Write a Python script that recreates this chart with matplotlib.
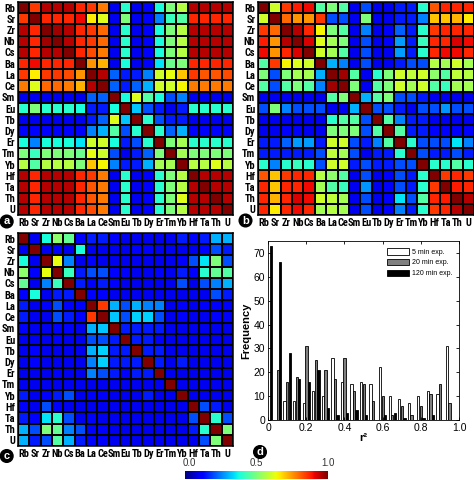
import numpy as np
import matplotlib
matplotlib.use("Agg")
import matplotlib.pyplot as plt
from matplotlib import font_manager

plt.rcParams['font.family'] = ['Liberation Sans', 'DejaVu Sans']

# narrow font for the crowded element labels, if one is installed
installed = {f.name for f in font_manager.fontManager.ttflist}
label_font = ['Liberation Sans', 'DejaVu Sans']
label_size = 6.3
for cand in ['Liberation Sans Narrow', 'Arial Narrow', 'Roboto Condensed',
             'Open Sans Condensed', 'DejaVu Sans Condensed']:
    if cand in installed:
        label_font = [cand, 'DejaVu Sans']
        label_size = 7.5
        break

elements = ["Rb", "Sr", "Zr", "Nb", "Cs", "Ba", "La", "Ce", "Sm", "Eu",
            "Tb", "Dy", "Er", "Tm", "Yb", "Hf", "Ta", "Th", "U"]

# lower triangles of the r^2 matrices, in percent (row i has i values)
low_a = [
    [],
    [85],
    [95, 87],
    [95, 87, 97],
    [95, 87, 95, 95],
    [87, 90, 87, 87, 87],
    [85, 66, 85, 85, 83, 75],
    [78, 62, 80, 80, 78, 72, 95],
    [10, 10, 10, 10, 10, 10, 22, 22],
    [40, 50, 40, 40, 40, 38, 15, 15, 38],
    [10, 10, 10, 10, 10, 10, 15, 22, 62, 32],
    [12, 12, 12, 12, 12, 12, 25, 30, 45, 20, 40],
    [38, 25, 38, 38, 38, 35, 60, 60, 38, 15, 20, 40],
    [50, 42, 50, 50, 50, 48, 63, 60, 20, 10, 15, 22, 50],
    [57, 45, 57, 57, 57, 50, 70, 65, 25, 15, 15, 30, 55, 55],
    [95, 87, 95, 95, 95, 87, 85, 78, 10, 40, 10, 12, 40, 50, 57],
    [95, 87, 95, 95, 95, 87, 82, 78, 10, 40, 10, 12, 40, 50, 57, 95],
    [95, 87, 95, 95, 95, 87, 82, 78, 10, 40, 10, 12, 40, 50, 62, 95, 95],
    [95, 87, 95, 95, 95, 87, 83, 78, 10, 40, 10, 12, 40, 50, 57, 95, 95, 95],
]

low_b = [
    [],
    [60],
    [85, 80],
    [88, 75, 95],
    [90, 75, 87, 92],
    [45, 85, 65, 62, 60],
    [50, 20, 50, 55, 55, 30],
    [45, 20, 45, 50, 45, 25, 97],
    [10, 10, 10, 10, 10, 10, 45, 50],
    [20, 50, 25, 20, 20, 20, 10, 10, 30],
    [10, 10, 10, 10, 10, 10, 40, 45, 45, 20],
    [10, 10, 12, 12, 10, 10, 50, 50, 50, 20, 45],
    [15, 15, 22, 28, 28, 15, 60, 60, 20, 15, 25, 45],
    [15, 15, 15, 15, 15, 20, 58, 55, 20, 10, 15, 15, 40],
    [40, 25, 40, 42, 40, 20, 60, 60, 15, 20, 15, 15, 20, 20],
    [82, 70, 85, 87, 87, 57, 52, 45, 10, 20, 10, 12, 20, 15, 40],
    [87, 70, 87, 87, 90, 55, 45, 42, 10, 27, 10, 12, 20, 15, 40, 85],
    [87, 72, 87, 92, 90, 60, 58, 55, 10, 20, 10, 12, 35, 20, 45, 87, 88],
    [87, 66, 87, 90, 87, 55, 57, 55, 10, 20, 10, 12, 25, 15, 40, 85, 87, 95],
]

low_c = [
    [],
    [10],
    [38, 10],
    [52, 12, 63],
    [47, 10, 25, 42],
    [12, 38, 10, 15, 15],
    [15, 10, 12, 20, 12, 12],
    [15, 10, 10, 20, 15, 12, 85],
    [12, 10, 10, 12, 12, 10, 30, 32],
    [10, 10, 10, 12, 10, 10, 20, 20, 15],
    [10, 12, 10, 10, 10, 10, 30, 33, 15, 15],
    [10, 12, 10, 10, 10, 10, 25, 33, 15, 15, 15],
    [10, 10, 10, 12, 10, 10, 25, 20, 15, 12, 15, 15],
    [10, 10, 10, 10, 10, 10, 10, 10, 10, 10, 10, 10, 10],
    [15, 10, 12, 15, 20, 10, 12, 12, 10, 10, 10, 15, 10, 10],
    [12, 10, 20, 12, 10, 10, 10, 10, 10, 10, 10, 10, 10, 10, 10],
    [15, 12, 35, 40, 20, 10, 12, 10, 10, 10, 10, 10, 10, 10, 10, 20],
    [30, 20, 50, 47, 25, 20, 12, 12, 10, 10, 10, 10, 10, 10, 10, 15, 40],
    [30, 15, 20, 45, 30, 15, 12, 12, 10, 10, 10, 10, 10, 10, 10, 10, 20, 50],
]

# histogram of r^2 (bin centres and counts)
r2_bins = [0.0, 0.05, 0.1, 0.15, 0.2, 0.25, 0.3, 0.35, 0.4, 0.45,
           0.5, 0.55, 0.6, 0.65, 0.7, 0.75, 0.8, 0.85, 0.9, 0.95]
freq_5 = [0, 0, 8, 8, 7, 12, 10, 26, 16, 15, 16, 15, 22, 10, 9, 7, 10, 12, 11, 31]
freq_20 = [0, 21, 16, 18, 31, 25, 21, 17, 26, 12, 15, 8, 10, 2, 6, 2, 6, 11, 15, 7]
freq_120 = [73, 66, 28, 17, 16, 21, 5, 2, 3, 4, 2, 0, 2, 3, 1, 0, 1, 2, 0, 0]


def full(low):
    n = len(elements)
    m = np.eye(n)
    for i, row in enumerate(low):
        for j, v in enumerate(row):
            m[i, j] = v / 100.0
            m[j, i] = v / 100.0
    return m


def matrix_panel(ax, low):
    n = len(elements)
    ax.pcolormesh(full(low), cmap='jet', vmin=0, vmax=1,
                  edgecolors='k', linewidth=1.1)
    ax.set_xlim(0, n)
    ax.set_ylim(n, 0)
    ax.set_xticks(np.arange(n) + 0.5)
    ax.set_yticks(np.arange(n) + 0.5)
    ax.set_xticklabels(elements, fontsize=label_size, fontweight='bold',
                       family=label_font)
    ax.set_yticklabels(elements, fontsize=label_size, fontweight='bold',
                       family=label_font)
    ax.tick_params(length=0, pad=2)
    for s in ax.spines.values():
        s.set_linewidth(1.1)


W, H = 474, 480
fig = plt.figure(figsize=(W / 100, H / 100), dpi=100)

ax_a = fig.add_axes([18 / W, 1 - 215 / H, 215 / W, 213 / H])
ax_b = fig.add_axes([258 / W, 1 - 215 / H, 216 / W, 213 / H])
ax_c = fig.add_axes([18 / W, 1 - 446 / H, 215 / W, 213 / H])
matrix_panel(ax_a, low_a)
matrix_panel(ax_b, low_b)
matrix_panel(ax_c, low_c)

# histogram
ax_d = fig.add_axes([268 / W, 1 - 420 / H, 191 / W, 179 / H])
bw = 0.012
x = np.array(r2_bins)
ax_d.bar(x - 0.013, freq_5, width=bw, color='white', edgecolor='black',
         linewidth=0.6, label='5 min exp.')
ax_d.bar(x + 0.001, freq_20, width=bw, color='#808080', edgecolor='black',
         linewidth=0.6, label='20 min exp.')
ax_d.bar(x + 0.014, freq_120, width=bw, color='black', edgecolor='black',
         linewidth=0.6, label='120 min exp.')
ax_d.set_xlim(0, 1)
ax_d.set_ylim(0, 75)
ax_d.set_xticks([0, 0.2, 0.4, 0.6, 0.8, 1.0])
ax_d.set_xticklabels(['0', '0.2', '0.4', '0.6', '0.8', '1.0'])
ax_d.set_yticks(range(0, 71, 10))
ax_d.tick_params(direction='in', length=2.5, top=True, right=True,
                 labelsize=7.5, pad=2, width=0.6)
ax_d.set_xlabel('r²', fontsize=8, fontweight='bold', labelpad=0)
ax_d.set_ylabel('Frequency', fontsize=8, fontweight='bold', labelpad=2)
for s in ax_d.spines.values():
    s.set_linewidth(0.6)
ax_d.legend(loc='upper right', frameon=False, fontsize=5, handlelength=3.2,
            handleheight=1.1, labelspacing=0.45, borderaxespad=0.6,
            handletextpad=0.4)

# colour bar
ax_cb = fig.add_axes([185 / W, 1 - 479.5 / H, 143 / W, 9 / H])
grad = np.linspace(0, 1, 256).reshape(1, -1)
ax_cb.imshow(grad, aspect='auto', cmap='jet', extent=[0, 1, 0, 1])
ax_cb.set_xticks([0.03, 0.5, 1.0])
ax_cb.set_xticklabels(['0.0', '0.5', '1.0'])
ax_cb.set_yticks([])
ax_cb.tick_params(top=True, labeltop=True, bottom=False, labelbottom=False,
                  length=0, labelsize=7, pad=1.5, labelcolor='#333333')
for s in ax_cb.spines.values():
    s.set_visible(False)

# circled panel letters
for lab, px, py in [('a', 6.7, 221.5), ('b', 245.5, 220.5),
                    ('c', 6.7, 456), ('d', 260, 452)]:
    fig.text(px / W, 1 - py / H, lab, color='white', fontsize=8,
             fontweight='bold', ha='center', va='center',
             bbox=dict(boxstyle='circle,pad=0.12', fc='black', ec='black'))

fig.savefig('out.png', dpi=100)
